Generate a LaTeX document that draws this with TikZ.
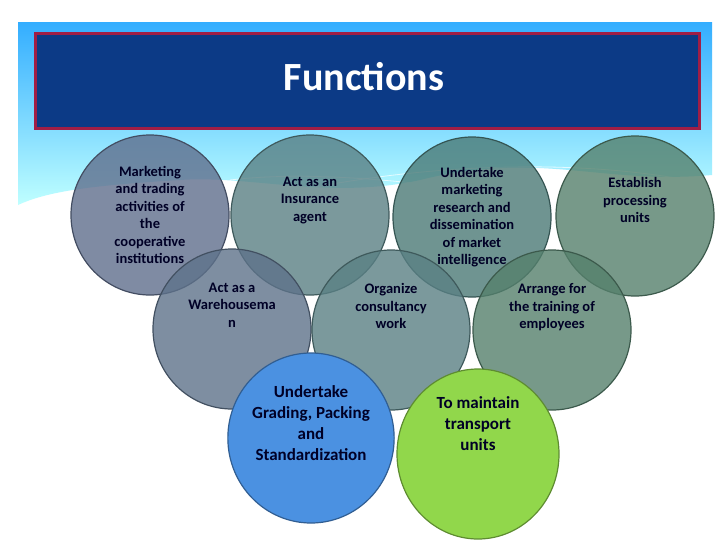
\documentclass[tikz,border=0pt]{standalone}
\usepackage{fontspec}
\setmainfont{Carlito}
\usetikzlibrary{shapes.geometric}
\definecolor{slate}{RGB}{95,110,140}
\definecolor{teal1}{RGB}{90,128,132}
\definecolor{teal2}{RGB}{75,122,118}
\definecolor{grn1}{RGB}{85,128,108}
\definecolor{bblue}{RGB}{75,145,225}
\definecolor{bgreen}{RGB}{145,215,75}
\definecolor{bannerred}{RGB}{160,30,70}
\definecolor{bannerblue}{RGB}{12,58,134}
\begin{document}
\begin{tikzpicture}[x=1pt,y=-1pt,
  bub/.style={ellipse,draw=#1!70!black,line width=1.2pt,fill=#1,fill opacity=0.8,text opacity=1,minimum width=158pt,minimum height=160pt,inner sep=0pt,align=center,font=\bfseries\fontsize{14.5}{17.5}\selectfont,text=black!85!blue},
  big/.style={ellipse,draw=#1!65!black,line width=1.2pt,fill=#1,minimum width=162pt,minimum height=170pt,inner sep=0pt,align=center,font=\bfseries\fontsize{17}{21}\selectfont,text=black!85!blue}]
\useasboundingbox (0,0) rectangle (728,546);
\fill[white] (0,0) rectangle (728,546);
\shade[top color=cyan!60!blue!80,bottom color=cyan!25] (18,22) -- (712,22) -- (712,175)
  .. controls (600,185) and (540,150) .. (420,180)
  .. controls (330,200) and (250,175) .. (180,180)
  .. controls (100,185) and (50,190) .. (18,205) -- cycle;
\draw[white,opacity=0.7,line width=0.8pt] (230,180) .. controls (400,160) and (600,230) .. (712,180);
\draw[white,opacity=0.7,line width=0.8pt] (300,190) .. controls (450,160) and (600,160) .. (712,185);
\node (banner) [draw=bannerred,line width=3pt,fill=bannerblue,minimum width=664pt,minimum height=95pt] at (367.5,80.5) {};
\node (title) [text=white,font=\bfseries\fontsize{40}{42}\selectfont] at (364,77) {Functions};
\node (b1) [bub=slate] at (150,215) {Marketing\\and trading\\activities of\\the\\cooperative\\institutions};
\node (b2) [bub=teal1] at (310,215) {Act as an\\Insurance\\agent\\[14pt]};
\node (b3) [bub=teal2] at (472,217) {Undertake\\marketing\\research and\\dissemination\\of market\\intelligence};
\node (b4) [bub=grn1] at (635,216) {Establish\\processing\\units\\[14pt]};
\node (b5) [bub=slate!80!teal1] at (232,329) {Act as a\\Warehousema\\n\\[30pt]};
\node (b6) [bub=teal1] at (391,330) {Organize\\consultancy\\work\\[30pt]};
\node (b7) [bub=grn1] at (552,330) {Arrange for\\the training of\\employees\\[30pt]};
\node (b8) [big=bblue] at (311,438) {Undertake\\Grading, Packing\\and\\Standardization\\[8pt]};
\node (b9) [big=bgreen] at (478,454) {To maintain\\transport\\units\\[40pt]};
\end{tikzpicture}
\end{document}
